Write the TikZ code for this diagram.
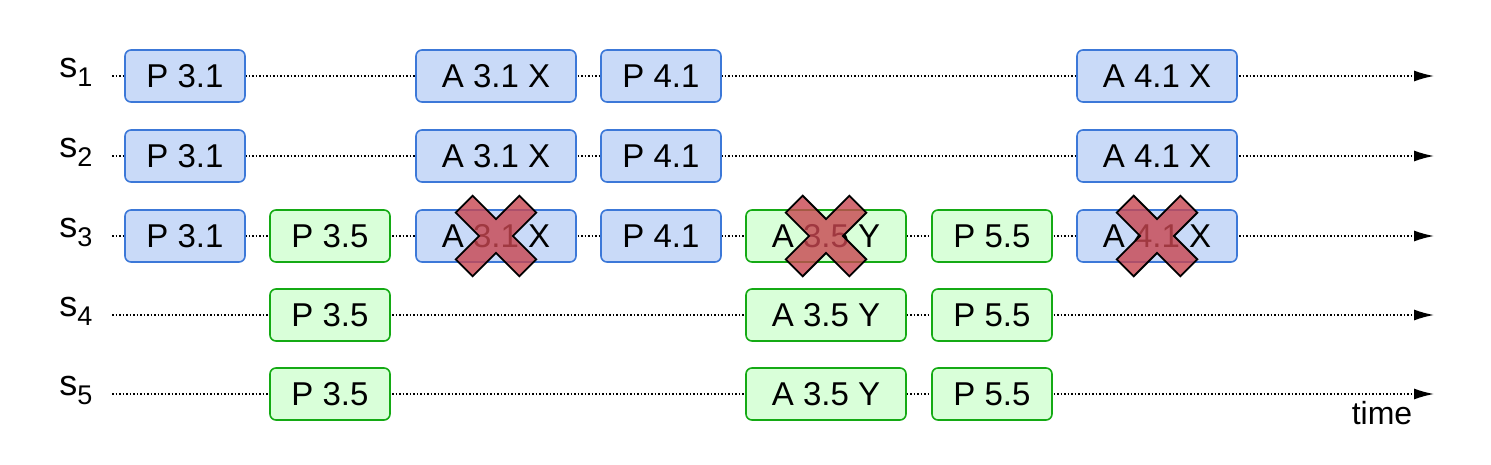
\documentclass[tikz,border=0pt]{standalone}
\usepackage{fontspec}
\setmainfont{Liberation Sans}
\usetikzlibrary{arrows.meta}
\definecolor{bfill}{RGB}{201,218,248}
\definecolor{bdraw}{RGB}{60,120,216}
\definecolor{gfill}{RGB}{217,255,217}
\definecolor{gdraw}{RGB}{20,170,20}
\definecolor{xred}{RGB}{200,70,80}
\begin{document}
\begin{tikzpicture}[x=1pt,y=-1pt,
  box/.style={rounded corners=6pt,line width=1.6pt,minimum height=52pt,inner sep=0pt,font=\fontsize{33}{36}\selectfont},
  pbox/.style={box,minimum width=120pt},
  abox/.style={box,minimum width=160pt},
  blue/.style={fill=bfill,draw=bdraw},
  green/.style={fill=gfill,draw=gdraw},
  tl/.style={dotted,line width=1.5pt,-{Latex[length=20pt,width=11pt]}},
  lab/.style={font=\fontsize{36}{38}\selectfont,anchor=east}]
\useasboundingbox (0,0) rectangle (1491,465);
\foreach \i/\y in {1/76,2/156,3/236,4/315,5/394}{
  \node[lab] (s\i) at (96,\y-4) {s\raisebox{-9pt}{\fontsize{27}{28}\selectfont\i}};
  \coordinate (b\i) at (112,\y);
  \coordinate (e\i) at (1434,\y);
  \draw[tl] (b\i) -- (e\i);
}
\foreach \i in {1,2,3}{
  \node[pbox,blue] (p31\i) at (185,{76+80*(\i-1)}) {P 3.1};
  \node[abox,blue] (a31\i) at (496,{76+80*(\i-1)}) {A 3.1 X};
  \node[pbox,blue] (p41\i) at (661,{76+80*(\i-1)}) {P 4.1};
  \node[abox,blue] (a41\i) at (1157,{76+80*(\i-1)}) {A 4.1 X};
}
\foreach \i/\y in {3/236,4/315,5/394}{
  \node[pbox,green] (p35\i) at (330,\y) {P 3.5};
  \node[abox,green] (a35\i) at (826,\y) {A 3.5 Y};
  \node[pbox,green] (p55\i) at (992,\y) {P 5.5};
}
\node[font=\fontsize{32}{34}\selectfont] (time) at (1382,413) {time};
\foreach \c in {a313,a353,a413}{
  \begin{scope}[shift={(\c.center)},rotate=45]
    \fill[xred,opacity=0.8] (12,45)--(12,12)--(45,12)--(45,-12)--(12,-12)--(12,-45)--(-12,-45)--(-12,-12)--(-45,-12)--(-45,12)--(-12,12)--(-12,45)--cycle;
    \draw[line width=1.8pt,line join=miter] (12,45)--(12,12)--(45,12)--(45,-12)--(12,-12)--(12,-45)--(-12,-45)--(-12,-12)--(-45,-12)--(-45,12)--(-12,12)--(-12,45)--cycle;
  \end{scope}
}
\end{tikzpicture}
\end{document}
